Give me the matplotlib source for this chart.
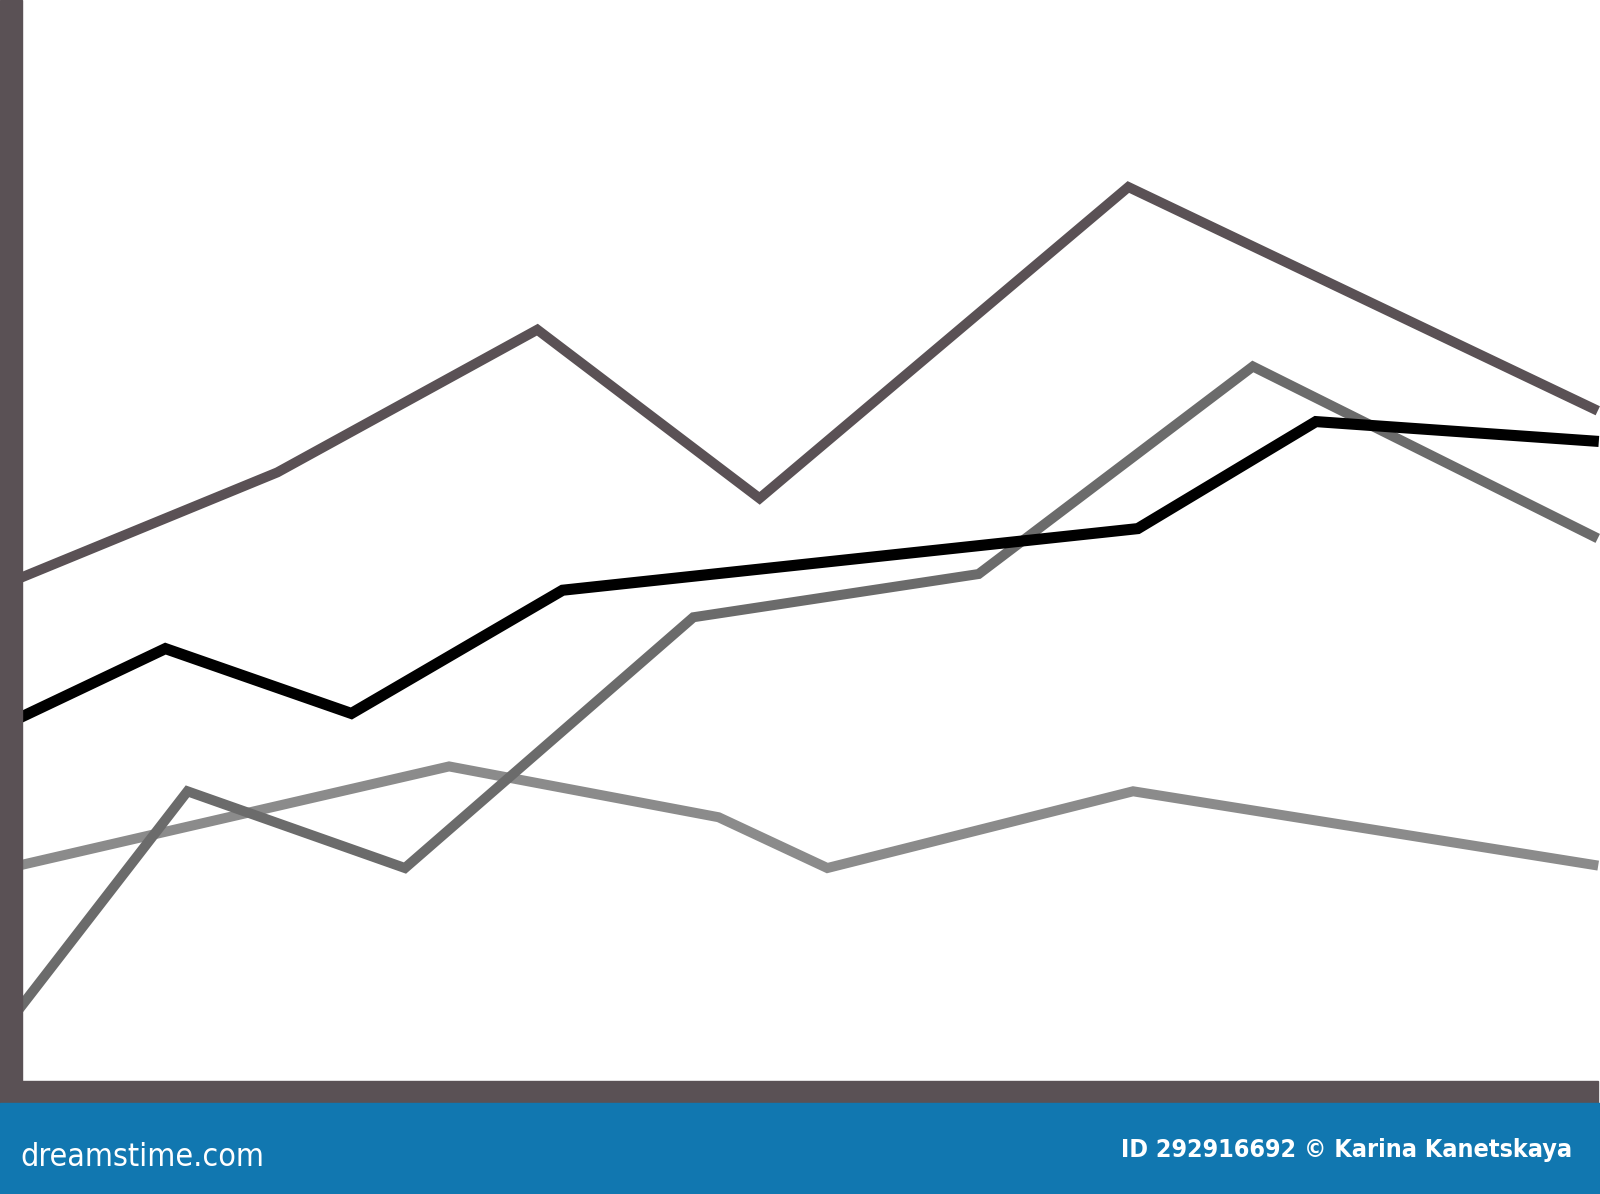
import matplotlib
matplotlib.use("Agg")
import matplotlib.pyplot as plt
from matplotlib.patches import Rectangle

# four series, each with its own x positions (0-100 scale)
x_a = [0, 16.2, 32.7, 46.8, 70.2, 99.7]
y_a = [46.6, 56.3, 69.5, 53.9, 82.7, 62.2]

x_b = [0, 9.1, 20.9, 34.3, 70.8, 82.1, 99.7]
y_b = [33.7, 40.0, 34.0, 45.4, 51.1, 61.0, 59.2]

x_c = [0, 10.5, 24.3, 42.6, 60.7, 78.1, 99.7]
y_c = [7.0, 26.8, 19.7, 42.9, 46.9, 66.1, 50.4]

x_d = [0, 27.1, 44.2, 51.1, 70.5, 99.7]
y_d = [20.0, 29.1, 24.4, 19.7, 26.8, 20.0]

W, H = 1600, 1194
axis_col = "#5a5155"
banner_col = "#1177b0"

fig = plt.figure(figsize=(W / 100, H / 100), dpi=100)
fig.patch.set_facecolor("white")

# plot area: right of the left bar, above the bottom bar
left, bottom_px, top_px, right_px = 22, 1081, 0, 1598
ax = fig.add_axes([left / W, (H - bottom_px) / H, (right_px - left) / W, (bottom_px - top_px) / H])
ax.set_xlim(0, 100)
ax.set_ylim(0, 100)
ax.axis("off")

lw = 7.2
ax.plot(x_d, y_d, color="#8b8b8b", lw=lw, clip_on=False, solid_joinstyle="miter")
ax.plot(x_c, y_c, color="#6b6b6b", lw=lw, clip_on=False, solid_joinstyle="miter")
ax.plot(x_b, y_b, color="#000000", lw=lw + 0.8, clip_on=False, solid_joinstyle="miter")
ax.plot(x_a, y_a, color=axis_col, lw=lw, clip_on=False, solid_joinstyle="miter")

# thick axis bars
fig.add_artist(Rectangle((0, (H - 1081) / H), 22 / W, 1081 / H, transform=fig.transFigure,
                         color=axis_col, zorder=5))
fig.add_artist(Rectangle((0, (H - 1103) / H), 1598 / W, 22 / H, transform=fig.transFigure,
                         color=axis_col, zorder=5))

# banner
fig.add_artist(Rectangle((0, 0), 1, (H - 1103) / H, transform=fig.transFigure,
                         color=banner_col, zorder=5))
fig.text(20 / W, (H - 1157) / H, "dreamstime.com", color="white", fontsize=23,
         family="DejaVu Sans", fontstretch="condensed", va="center", ha="left", zorder=6)
fig.text(1572 / W, (H - 1150) / H, "ID 292916692 © Karina Kanetskaya", color="white",
         fontsize=18, fontweight="bold", family="DejaVu Sans", fontstretch="condensed",
         va="center", ha="right", zorder=6)

fig.savefig("out.png", dpi=100)
